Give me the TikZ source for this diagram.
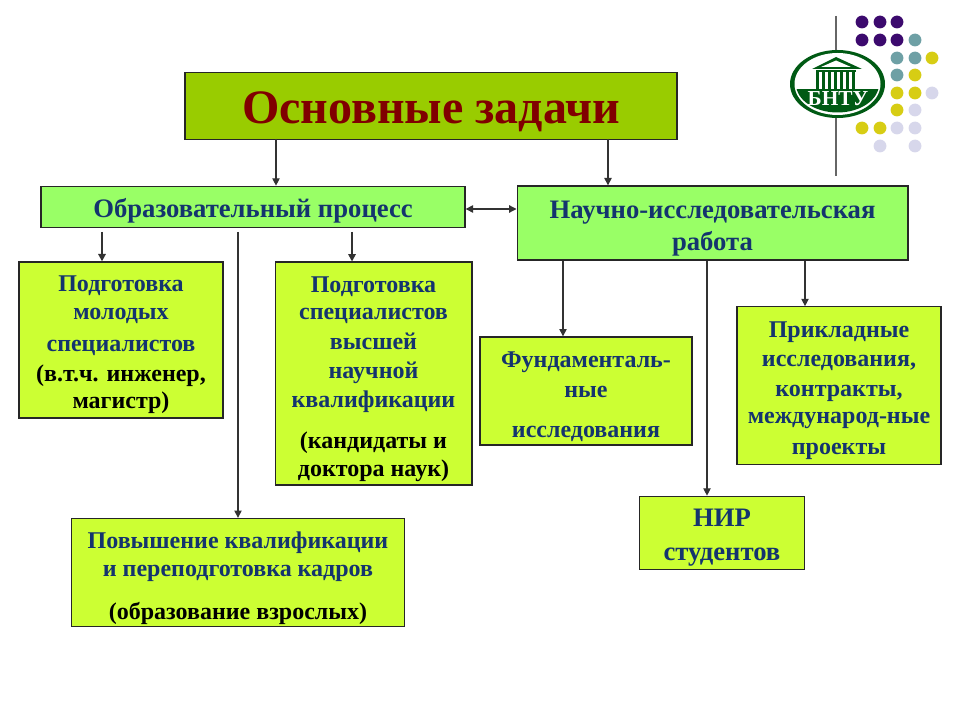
\documentclass[tikz,border=0pt]{standalone}
\usepackage{fontspec}
\setmainfont{Liberation Serif}
\definecolor{navy}{RGB}{20,52,110}
\definecolor{boxlime}{RGB}{204,255,51}
\definecolor{boxgreen}{RGB}{153,255,102}
\definecolor{titlegreen}{RGB}{153,204,0}
\definecolor{titlered}{RGB}{128,0,0}
\definecolor{dpurple}{RGB}{60,10,110}
\definecolor{dteal}{RGB}{110,160,165}
\definecolor{dyellow}{RGB}{215,205,20}
\definecolor{dlav}{RGB}{215,215,235}
\definecolor{logogreen}{RGB}{0,90,20}
\usetikzlibrary{arrows.meta}
\tikzset{
 x=0.75pt,y=-0.75pt,
 boxa/.style={draw=black!85,line width=1pt,fill=boxlime,inner sep=0pt,font=\fontsize{18}{20}\bfseries\selectfont,text=navy},
 boxb/.style={boxa,fill=boxgreen,font=\fontsize{20}{20}\bfseries\selectfont},
 link/.style={draw=black!80,line width=0.9pt,-{Triangle[length=5.5pt,width=5.5pt]}},
 dot/.style={circle,inner sep=0pt,minimum size=9.6pt},
}
\newcommand{\bxt}[1]{\textcolor{black}{#1}}
\newcommand{\shifted}[2]{\raisebox{#1}[\height][\depth]{\begin{tabular}{@{}c@{}}#2\end{tabular}}}
\begin{document}
\begin{tikzpicture}
\useasboundingbox (0,0) rectangle (960,720);
\fill[white] (0,0) rectangle (960,720);
% title
\node[boxa,fill=titlegreen,minimum width=369pt,minimum height=50pt,text=titlered,font=\fontsize{36}{38}\bfseries\selectfont] (title) at (431,106) {\shifted{-5.5pt}{Основные задачи}};
\node[boxb,minimum width=318pt,minimum height=31pt] (edu) at (253,207) {\shifted{-3.5pt}{Образовательный процесс}};
\node[boxb,minimum width=293pt,minimum height=55.5pt] (sci) at (712.5,223) {\shifted{-4.5pt}{Научно-исследовательская\\[3.2pt]работа}};
\node[boxa,minimum width=153pt,minimum height=117pt] (b1) at (121,340) {\shifted{-3.7pt}{Подготовка\\[1.2pt]молодых\\[4pt]специалистов\\[2.3pt]\bxt{(в.т.ч. инженер,}\\[.5pt]\bxt{магистр)}}};
\node[boxa,minimum width=147.5pt,minimum height=167pt] (b2) at (373.5,373.5) {\shifted{-4pt}{Подготовка\\[.3pt]специалистов\\[2.5pt]высшей\\[1.8pt]научной\\[1.8pt]квалификации\\[10.8pt]\bxt{(кандидаты и}\\[1pt]\bxt{доктора наук)}}};
\node[boxa,minimum width=249.5pt,minimum height=81pt] (b3) at (238,572.5) {\shifted{-4.5pt}{Повышение квалификации\\[1pt]и переподготовка кадров\\[12pt]\bxt{(образование взрослых)}}};
\node[boxa,minimum width=159pt,minimum height=81pt] (f1) at (586,391) {\shifted{-4.5pt}{Фундаменталь-\\[2.5pt]ные\\[10pt]исследования}};
\node[boxa,minimum width=153pt,minimum height=118pt] (f2) at (839,385.5) {\shifted{-4pt}{Прикладные\\[1.8pt]исследования,\\[2.5pt]контракты,\\[.2pt]международ-ные\\[3.2pt]проекты}};
\node[boxa,minimum width=124pt,minimum height=55pt,font=\fontsize{20}{20}\bfseries\selectfont] (f3) at (722,533) {\shifted{-4.1pt}{НИР\\[5.5pt]студентов}};
% helper coordinates
\coordinate (t1) at (276,139); \coordinate (t2) at (608,139);
\coordinate (e1) at (102,232); \coordinate (e2) at (238,232); \coordinate (e3) at (352,232);
\coordinate (s1) at (563,261); \coordinate (s2) at (707,261); \coordinate (s3) at (805,261);
\draw[link] (t1) -- (t1 |- edu.north);
\draw[link] (t2) -- (t2 |- sci.north);
\draw[link,{Triangle[length=5.5pt,width=5.5pt]}-{Triangle[length=5.5pt,width=5.5pt]}] (edu.east) ++(0,2) -- (sci.west |- 0,209);
\draw[link,line width=1.3pt] (e1) -- (e1 |- b1.north);
\draw[link] (e2) -- (e2 |- b3.north);
\draw[link,line width=1.3pt] (e3) -- (e3 |- b2.north);
\draw[link] (s1) -- (s1 |- f1.north);
\draw[link] (s2) -- (s2 |- f3.north);
\draw[link] (s3) -- (s3 |- f2.north);
% vertical rule
\draw[black!60,line width=1.2pt] (836,16) -- (836,176);
% dots
\foreach \p in {(862,22),(880,22),(897,22),(862,40),(880,40),(897,40)} \node[dot,fill=dpurple] at \p {};
\foreach \p in {(915,40),(897,58),(915,58),(897,75)} \node[dot,fill=dteal] at \p {};
\foreach \p in {(932,58),(915,75),(897,93),(915,93),(897,110),(862,128),(880,128)} \node[dot,fill=dyellow] at \p {};
\foreach \p in {(932,93),(915,110),(897,128),(915,128),(880,146),(915,146)} \node[dot,fill=dlav] at \p {};
% logo
\fill[logogreen] (837.5,84) ellipse [x radius=47.5,y radius=34];
\fill[white] (837.5,84) ellipse [x radius=43,y radius=31];
\begin{scope}
\clip (790,90) rectangle (886,120);
\fill[logogreen] (837.5,84) ellipse [x radius=41.5,y radius=28.5];
\end{scope}
\fill[logogreen] (836,57) -- (812,69) -- (862,69) -- cycle;
\fill[white] (836,60.5) -- (821,67) -- (851,67) -- cycle;
\fill[logogreen] (816,70) rectangle (856,72.5);
\foreach \q in {817,823,829,835,841,847,853}
 \fill[logogreen] (\q-1.5,72) rectangle (\q+1.5,91);
\node[text=white,font=\fontsize{16}{16}\bfseries\selectfont,inner sep=0pt,anchor=base] (bntu) at (838,106) {БНТУ};
\end{tikzpicture}
\end{document}
